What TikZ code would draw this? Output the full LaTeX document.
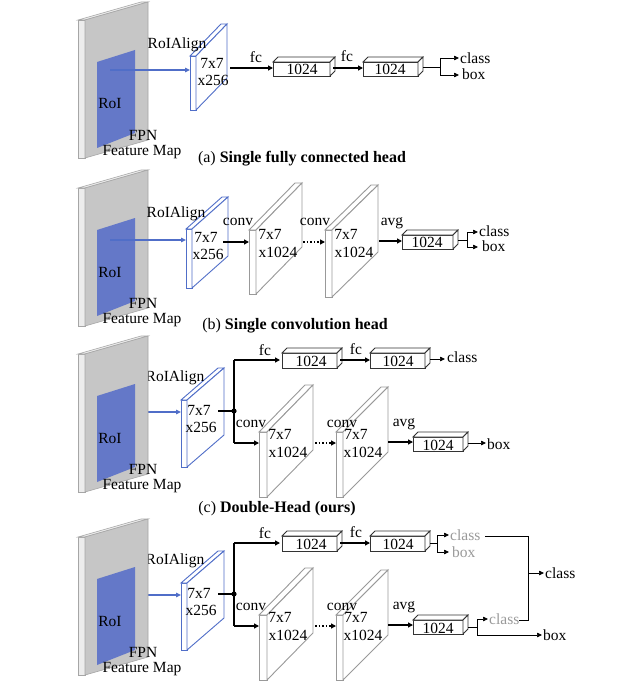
\documentclass[tikz,border=0pt]{standalone}
\usepackage{fontspec}
\setmainfont{Liberation Serif}
\usetikzlibrary{arrows.meta}
\definecolor{roiblue}{RGB}{100,120,200}
\definecolor{slabblue}{RGB}{80,110,200}
\tikzset{
  txt/.style={inner sep=0pt,font=\fontsize{15.5}{16}\selectfont},
  captxt/.style={inner sep=0pt,font=\fontsize{16}{17}\selectfont},
  gtxt/.style={txt,text=gray!80},
  arr/.style={-{Triangle[length=5pt,width=5pt]},line width=1.6pt},
  thin arr/.style={-{Triangle[length=5pt,width=4.5pt]},line width=0.7pt},
  fork/.style={line width=0.7pt},
  blue arr/.style={-{Triangle[length=5pt,width=4.5pt]},line width=1.3pt,draw=slabblue,fill=slabblue},
  fpnface/.style={draw=gray!70,fill=gray!15,line width=0.6pt},
  bluecube/.style={draw=slabblue,fill=white,line width=0.9pt},
  graycube/.style={draw=gray!80,fill=white,line width=0.9pt},
  fccube/.style={draw=black!80,fill=white,line width=0.8pt},
}
% #1 x, #2 y (top-left of front), #3 w, #4 h, #5 dx, #6 dy, #7 style, #8 side fill, #9 name
\newcommand\mycube[9]{%
  \filldraw[#7] (#1,#2) rectangle ++(#3,#4);
  \filldraw[#7] (#1,#2) -- ++(#5,-#6) -- ++(#3,0) -- (#1+#3,#2) -- cycle;
  \filldraw[#7,fill=#8] (#1+#3,#2) -- ++(#5,-#6) -- ++(0,#4) -- (#1+#3,#2+#4) -- cycle;
  \coordinate (#9-c) at (#1+#3/2,#2+#4/2);
}
% FPN feature map with vertical shift #1, name #2
\newcommand\fpnmap[2]{%
  \begin{scope}[shift={(0,#1)}]
    \mycube{78}{20}{7}{138}{63}{18}{fpnface}{gray!45}{#2}
    \fill[roiblue] (97,62) -- (135,50) -- (135,133) -- (97,148) -- cycle;
    \node[txt] (#2-roi) at (110,104) {RoI};
    \node[txt] (#2-l1) at (143,135) {FPN};
    \node[txt] (#2-l2) at (142,152) {Feature Map};
  \end{scope}}
\begin{document}
\begin{tikzpicture}[x=1pt,y=-1pt]
\useasboundingbox (0,0) rectangle (632,687);
\fill[white] (0,0) rectangle (632,687);

% ---------------- (a)
\fpnmap{0}{fa}
\mycube{190}{56}{6}{54}{31}{32}{bluecube}{white}{sa}
\node[txt] (sa1) at (212,63) {7x7};
\node[txt] (sa2) at (213,80) {x256};
\node[txt] (ra) at (177,45) {RoIAlign};
\coordinate (ra0) at (110,70); \coordinate (ra1) at (190,70);
\draw[blue arr] (ra0) -- (ra1);
\mycube{273}{62}{57}{14}{5}{5}{fccube}{white}{ba1}
\node[txt] (ba1t) at (302,69) {1024};
\mycube{363}{62}{55}{14}{5}{5}{fccube}{white}{ba2}
\node[txt] (ba2t) at (390,69) {1024};
\draw[arr] (230,68) -- (273,68);
\node[txt] (fca1) at (256,57) {fc};
\draw[arr] (333,68) -- (363,68);
\node[txt] (fca2) at (347,56) {fc};
\draw[fork] (423,67) -- (440,67) (440,58) -- (440,75);
\draw[thin arr] (440,58) -- (459,58);
\draw[thin arr] (440,75) -- (459,75);
\node[txt,anchor=west] (ca) at (460,58) {class};
\node[txt,anchor=west] (xa) at (462,74) {box};
\node[captxt] (capa) at (302,159) {(a) \textbf{Single fully connected head}};

% ---------------- (b)
\fpnmap{168}{fb}
\mycube{186}{229}{6}{59}{36}{32}{bluecube}{white}{sb}
\node[txt] (sb1) at (206,237) {7x7};
\node[txt] (sb2) at (208,254) {x256};
\node[txt] (rb) at (176,214) {RoIAlign};
\draw[blue arr] (110,240) -- (186,240);
\draw[arr] (223,242) -- (249,242);
\mycube{249}{230}{7}{64}{46}{47}{graycube}{white}{gb1}
\node[txt] (cvb1) at (238,222) {conv};
\node[txt] (gb1a) at (270,234) {7x7};
\node[txt] (gb1b) at (278,252) {x1024};
\draw[arr,dotted,line width=1.4pt] (303,242) -- (325,242);
\mycube{325}{230}{7}{67}{46}{45}{graycube}{white}{gb2}
\node[txt] (cvb2) at (315,222) {conv};
\node[txt] (gb2a) at (346,234) {7x7};
\node[txt] (gb2b) at (354,252) {x1024};
\draw[arr] (379,241) -- (402,241);
\node[txt] (avb) at (392,223) {avg};
\mycube{402}{235}{51}{14}{5}{5}{fccube}{white}{bb}
\node[txt] (bbt) at (427,242) {1024};
\draw[fork] (458,240) -- (467,240) (467,232) -- (467,247);
\draw[thin arr] (467,232) -- (478,232);
\draw[thin arr] (467,247) -- (478,247);
\node[txt,anchor=west] (cb) at (479,231) {class};
\node[txt,anchor=west] (xb) at (482,246) {box};
\node[captxt] (capb) at (295,326) {(b) \textbf{Single convolution head}};

% ---------------- (c) and (d) share the left part
\foreach \s/\n in {0/c,183/d}{
\begin{scope}[shift={(0,\s)}]
\mycube{181}{400}{6}{67}{37}{32}{bluecube}{white}{s\n}
\node[txt] (s\n1) at (199,410) {7x7};
\node[txt] (s\n2) at (201,427) {x256};
\node[txt] (r\n) at (175,378) {RoIAlign};
\draw[blue arr] (110,412) -- (181,412);
\draw[line width=1.6pt] (218,411) -- (234,411);
\fill (234,411) circle (2.6pt);
\draw[line width=1.6pt] (234,411) -- (234,360);
\draw[arr] (234,360) -- (280,360);
\node[txt] (fc\n1) at (265,350) {fc};
\draw[line width=1.6pt] (234,411) -- (234,443);
\draw[arr] (234,443) -- (259,443);
\mycube{282}{353}{55}{15}{5}{5}{fccube}{white}{b\n1}
\node[txt] (b\n1t) at (311,361) {1024};
\draw[arr] (340,360) -- (370,360);
\node[txt] (fc\n2) at (356,349) {fc};
\mycube{370}{353}{55}{15}{5}{5}{fccube}{white}{b\n2}
\node[txt] (b\n2t) at (398,361) {1024};
\mycube{259}{432}{8}{65}{46}{47}{graycube}{white}{g\n1}
\node[txt] (cv\n1) at (251,424) {conv};
\node[txt] (g\n1a) at (280,434) {7x7};
\node[txt] (g\n1b) at (288,452) {x1024};
\draw[arr,dotted,line width=1.4pt] (315,443) -- (336,443);
\mycube{336}{432}{7}{65}{45}{45}{graycube}{white}{g\n2}
\node[txt] (cv\n2) at (342,424) {conv};
\node[txt] (g\n2a) at (356,434) {7x7};
\node[txt] (g\n2b) at (363,452) {x1024};
\draw[arr] (388,442) -- (413,442);
\node[txt] (av\n) at (404,424) {avg};
\mycube{413}{437}{50}{14}{5}{5}{fccube}{white}{b\n3}
\node[txt] (b\n3t) at (438,445) {1024};
\end{scope}}
\fpnmap{334}{fc}
\fpnmap{517}{fd}

% right part (c)
\draw[thin arr] (430,359) -- (445,359);
\node[txt,anchor=west] (cc) at (447,357) {class};
\draw[thin arr] (468,443) -- (486,443);
\node[txt,anchor=west] (xc) at (487,444) {box};
\node[captxt] (capc) at (277,509) {(c) \textbf{Double-Head (ours)}};

% right part (d)
\draw[fork] (430,543) -- (437,543) (437,535) -- (437,552);
\draw[thin arr] (437,535) -- (449,535);
\draw[thin arr] (437,552) -- (449,552);
\node[gtxt,anchor=west] (cd1) at (450,535) {class};
\node[gtxt,anchor=west] (xd1) at (452,552) {box};
\draw[fork] (485,536) -- (528,536) -- (528,620) -- (519,620);
\draw[thin arr] (528,573) -- (544,573);
\node[txt,anchor=west] (cd) at (545,573) {class};
\draw[fork] (468,627) -- (477,627) (477,619) -- (477,635);
\draw[thin arr] (477,619) -- (488,619);
\node[gtxt,anchor=west] (cd2) at (489,619) {class};
\draw[thin arr] (477,635) -- (542,635);
\node[txt,anchor=west] (xd) at (543,635) {box};
\end{tikzpicture}
\end{document}
